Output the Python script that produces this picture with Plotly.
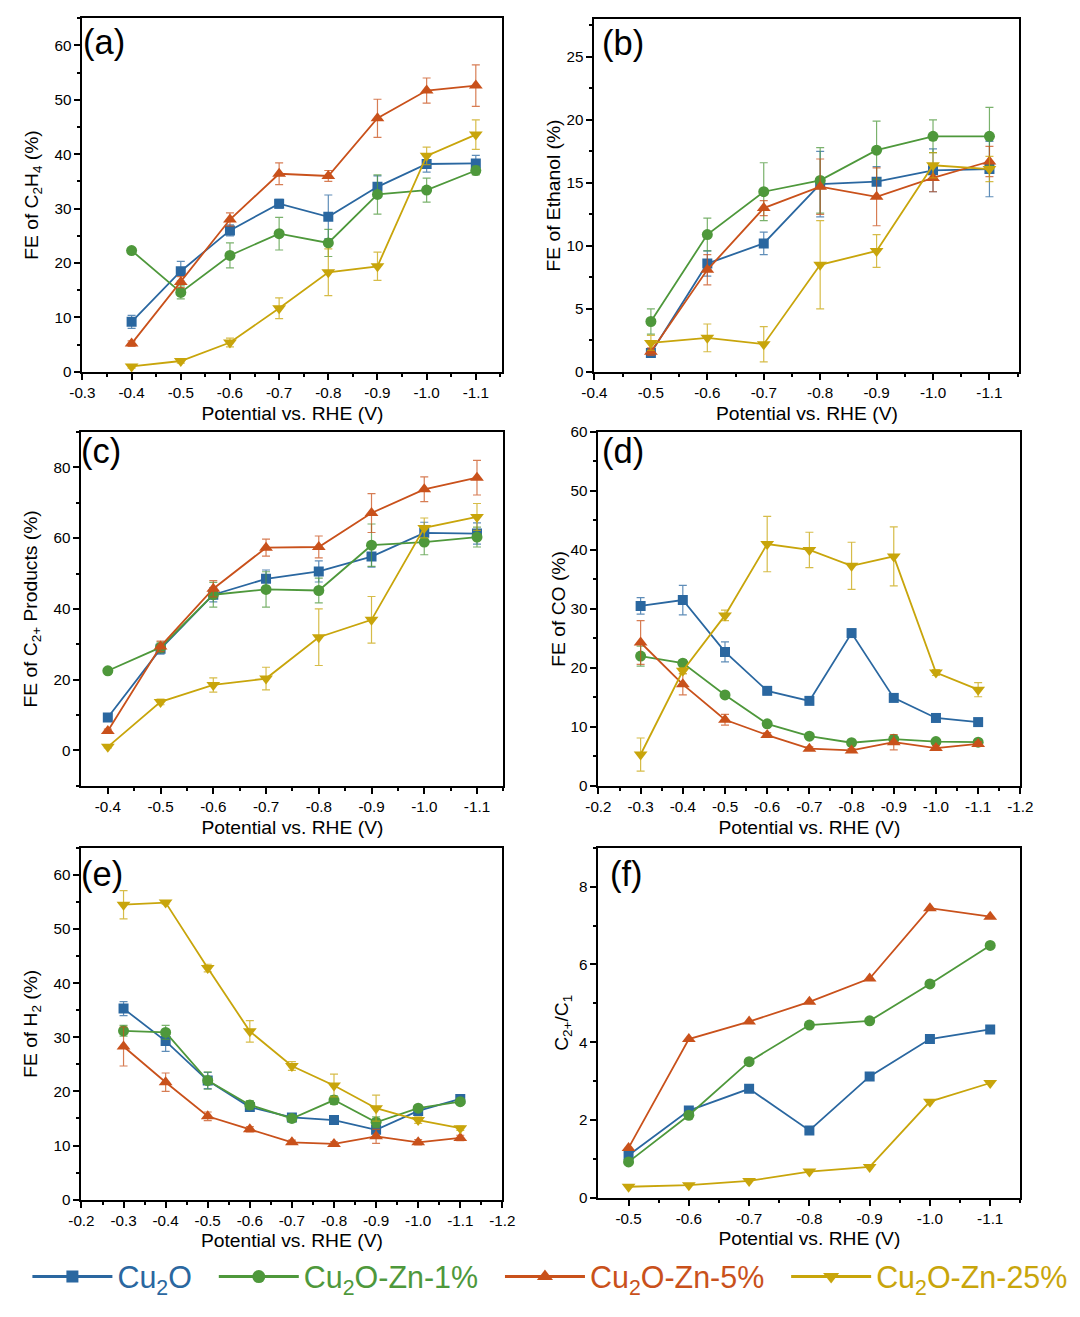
import numpy as np
import plotly.graph_objects as go

# ---------------- data ----------------
SERIES = ["Cu<sub>2</sub>O", "Cu<sub>2</sub>O-Zn-1%", "Cu<sub>2</sub>O-Zn-5%", "Cu<sub>2</sub>O-Zn-25%"]

pot_a = [-0.4, -0.5, -0.6, -0.7, -0.8, -0.9, -1.0, -1.1]
pot_b = [-0.5, -0.6, -0.7, -0.8, -0.9, -1.0, -1.1]
pot_d = [-0.3, -0.4, -0.5, -0.6, -0.7, -0.8, -0.9, -1.0, -1.1]

# (a) FE of C2H4
c2h4_cu2o = [9.2, 18.5, 26.0, 30.9, 28.5, 34.0, 38.2, 38.3]
c2h4_cu2o_err = [1.2, 1.8, 1.0, 0.8, 4.0, 2.0, 1.5, 1.5]
c2h4_zn1 = [22.3, 14.6, 21.4, 25.4, 23.7, 32.6, 33.4, 37.0]
c2h4_zn1_err = [0.5, 1.2, 2.3, 3.0, 2.5, 3.6, 2.2, 0.8]
c2h4_zn5 = [5.2, 16.5, 28.0, 36.4, 36.0, 46.6, 51.7, 52.6]
c2h4_zn5_err = [0.5, 1.0, 1.2, 2.0, 1.0, 3.5, 2.3, 3.8]
c2h4_zn25 = [1.0, 2.0, 5.4, 11.7, 18.3, 19.4, 39.7, 43.6]
c2h4_zn25_err = [0.3, 0.4, 0.8, 1.9, 4.3, 2.6, 1.6, 2.7]

# (b) FE of Ethanol
eth_cu2o = [1.5, 8.6, 10.2, 14.9, 15.1, 16.0, 16.1]
eth_cu2o_err = [0.3, 1.0, 0.9, 2.6, 1.2, 1.7, 2.2]
eth_zn1 = [4.0, 10.9, 14.3, 15.2, 17.6, 18.7, 18.7]
eth_zn1_err = [1.0, 1.3, 2.3, 2.6, 2.3, 1.3, 2.3]
eth_zn5 = [1.6, 8.1, 13.0, 14.7, 13.9, 15.4, 16.7]
eth_zn5_err = [0.3, 1.2, 0.6, 2.2, 2.3, 1.1, 1.2]
eth_zn25 = [2.3, 2.7, 2.2, 8.5, 9.6, 16.4, 16.1]
eth_zn25_err = [0.6, 1.1, 1.4, 3.5, 1.3, 1.0, 1.0]

# (c) FE of C2+ products
c2p_cu2o = [9.3, 28.7, 44.0, 48.5, 50.6, 54.8, 61.5, 61.3]
c2p_cu2o_err = [0.5, 1.5, 2.0, 2.5, 3.0, 3.0, 3.0, 3.0]
c2p_zn1 = [22.5, 29.1, 44.0, 45.5, 45.2, 58.0, 58.9, 60.3]
c2p_zn1_err = [0.5, 1.5, 3.5, 5.0, 3.5, 6.0, 3.6, 2.8]
c2p_zn5 = [5.5, 29.4, 45.7, 57.3, 57.5, 67.1, 73.8, 77.1]
c2p_zn5_err = [0.5, 1.5, 2.3, 2.4, 3.1, 5.5, 3.5, 4.9]
c2p_zn25 = [1.0, 13.7, 18.5, 20.3, 32.0, 36.9, 62.9, 66.0]
c2p_zn25_err = [0.3, 0.8, 2.0, 3.2, 8.0, 6.6, 2.8, 3.8]

# (d) FE of CO
co_cu2o = [30.5, 31.5, 22.7, 16.1, 14.4, 25.9, 14.9, 11.5, 10.8]
co_cu2o_err = [1.4, 2.5, 1.7, 0.5, 0.5, 0.6, 0.5, 0.5, 0.5]
co_zn1 = [22.0, 20.8, 15.4, 10.5, 8.4, 7.3, 7.9, 7.5, 7.4]
co_zn1_err = [1.7, 0.5, 0.4, 0.4, 0.4, 0.3, 0.4, 0.3, 0.3]
co_zn5 = [24.3, 17.2, 11.2, 8.6, 6.3, 6.0, 7.4, 6.4, 7.1]
co_zn5_err = [3.7, 1.8, 0.9, 0.4, 0.3, 0.3, 1.3, 0.4, 0.4]
co_zn25 = [5.3, 19.5, 28.9, 41.0, 40.0, 37.3, 38.9, 19.2, 16.3]
co_zn25_err = [2.8, 0.5, 0.9, 4.7, 3.0, 4.0, 5.0, 0.5, 1.2]

# (e) FE of H2
h2_cu2o = [35.3, 29.3, 22.0, 17.1, 15.2, 14.7, 12.9, 16.4, 18.6]
h2_cu2o_err = [1.3, 1.9, 1.5, 0.6, 0.5, 0.5, 0.5, 0.5, 0.6]
h2_zn1 = [31.2, 30.9, 22.0, 17.5, 15.0, 18.4, 14.3, 16.9, 18.1]
h2_zn1_err = [1.0, 1.3, 1.6, 0.8, 0.5, 0.8, 1.0, 0.5, 0.5]
h2_zn5 = [28.3, 21.7, 15.4, 13.0, 10.6, 10.3, 11.7, 10.6, 11.4]
h2_zn5_err = [3.6, 1.7, 0.8, 0.5, 0.4, 0.4, 1.3, 0.5, 0.5]
h2_zn25 = [54.5, 54.9, 42.8, 31.1, 24.7, 21.1, 16.9, 14.7, 13.2]
h2_zn25_err = [2.6, 0.3, 0.7, 2.0, 0.8, 2.1, 2.4, 0.6, 0.4]

# (f) C2+/C1 ratio
ratio_cu2o = [1.09, 2.24, 2.80, 1.73, 3.12, 4.08, 4.33]
ratio_zn1 = [0.92, 2.12, 3.50, 4.44, 4.55, 5.50, 6.49]
ratio_zn5 = [1.28, 4.08, 4.53, 5.04, 5.64, 7.45, 7.23]
ratio_zn25 = [0.28, 0.32, 0.43, 0.67, 0.79, 2.47, 2.95]

# tick labels
xticks_a = [-0.3, -0.4, -0.5, -0.6, -0.7, -0.8, -0.9, -1.0, -1.1]
xticks_b = [-0.4, -0.5, -0.6, -0.7, -0.8, -0.9, -1.0, -1.1]
xticks_c = [-0.4, -0.5, -0.6, -0.7, -0.8, -0.9, -1.0, -1.1]
xticks_d = [-0.2, -0.3, -0.4, -0.5, -0.6, -0.7, -0.8, -0.9, -1.0, -1.1, -1.2]
xticks_f = [-0.5, -0.6, -0.7, -0.8, -0.9, -1.0, -1.1]

# ---------------- style ----------------
COLORS = ["#2a67a0", "#4e983b", "#c9511b", "#c8a50b"]
ERRCOLORS = ["rgba(42,103,160,0.75)", "rgba(78,152,59,0.75)", "rgba(201,81,27,0.75)", "rgba(200,165,11,0.75)"]
SYMBOLS = ["square", "circle", "triangle-up", "triangle-down"]
MSIZE = [10, 11, 12, 12]
FONT = "Liberation Sans, Arial, sans-serif"
OFF = 8                      # body margin of the html page
SX, SY = 1080 / 1096, 1317 / 1337   # page -> picture scale
W, H = 1080, 1321
K = 1 / SX                   # size factor


def fx(px):
    return (px / SX - OFF) / W


def fy(py):
    return 1 - (py / SY - OFF) / H


fig = go.Figure()

panels = [
    dict(x=pot_a, ys=[c2h4_cu2o, c2h4_zn1, c2h4_zn5, c2h4_zn25],
         errs=[c2h4_cu2o_err, c2h4_zn1_err, c2h4_zn5_err, c2h4_zn25_err],
         px=(78, 502), py=(17, 370), xr=[-0.3, -1.154], yr=[0, 65], ydt=10, ymin=5,
         xt=xticks_a, ytitle="FE of C<sub>2</sub>H<sub>4</sub> (%)", label="(a)",
         ystand=11, lab=(6, 13)),
    dict(x=pot_b, ys=[eth_cu2o, eth_zn1, eth_zn5, eth_zn25],
         errs=[eth_cu2o_err, eth_zn1_err, eth_zn5_err, eth_zn25_err],
         px=(595, 1024), py=(18, 370), xr=[-0.4, -1.153], yr=[0, 28], ydt=5, ymin=2.5,
         xt=xticks_b, ytitle="FE of Ethanol (%)", label="(b)",
         ystand=1, lab=(13, 13)),
    dict(x=pot_a, ys=[c2p_cu2o, c2p_zn1, c2p_zn5, c2p_zn25],
         errs=[c2p_cu2o_err, c2p_zn1_err, c2p_zn5_err, c2p_zn25_err],
         px=(77, 503), py=(430, 783), xr=[-0.35, -1.15], yr=[-10, 90], ydt=20, ymin=10,
         xt=xticks_c, ytitle="FE of C<sub>2+</sub> Products (%)", label="(c)",
         ystand=11, lab=(5, 8)),
    dict(x=pot_d, ys=[co_cu2o, co_zn1, co_zn5, co_zn25],
         errs=[co_cu2o_err, co_zn1_err, co_zn5_err, co_zn25_err],
         px=(599, 1025), py=(430, 783), xr=[-0.2, -1.2], yr=[0, 60], ydt=10, ymin=5,
         xt=xticks_d, ytitle="FE of CO (%)", label="(d)",
         ystand=0, lab=(9, 8)),
    dict(x=pot_d, ys=[h2_cu2o, h2_zn1, h2_zn5, h2_zn25],
         errs=[h2_cu2o_err, h2_zn1_err, h2_zn5_err, h2_zn25_err],
         px=(77, 502), py=(845, 1196), xr=[-0.2, -1.2], yr=[0, 65], ydt=10, ymin=5,
         xt=xticks_d, ytitle="FE of H<sub>2</sub> (%)", label="(e)",
         ystand=11, lab=(5, 15)),
    dict(x=pot_b, ys=[ratio_cu2o, ratio_zn1, ratio_zn5, ratio_zn25],
         errs=None,
         px=(599, 1025), py=(845, 1194), xr=[-0.45, -1.15], yr=[0, 9], ydt=2, ymin=1,
         xt=xticks_f, ytitle="C<sub>2+</sub>/C<sub>1</sub>", label="(f)",
         ystand=5, lab=(17, 15)),
]

layout = {}
for i, p in enumerate(panels, start=1):
    xa = "x" if i == 1 else f"x{i}"
    ya = "y" if i == 1 else f"y{i}"
    for s in range(4):
        err = None
        if p["errs"] is not None:
            err = dict(type="data", array=p["errs"][s], visible=True,
                       color=ERRCOLORS[s], thickness=1.2, width=4)
        fig.add_trace(go.Scatter(
            x=p["x"], y=p["ys"][s], xaxis=xa, yaxis=ya,
            mode="lines+markers", name=SERIES[s],
            legendgroup=SERIES[s], showlegend=False,
            line=dict(color=COLORS[s], width=1.8),
            marker=dict(symbol=SYMBOLS[s], size=MSIZE[s], color=COLORS[s],
                        line=dict(width=0)),
            error_y=err,
        ))
    x0, x1 = p["px"]
    y0, y1 = p["py"]
    xdom = [fx(x0), fx(x1)]
    ydom = [fy(y1), fy(y0)]
    minor_x = np.round(np.arange(p["xt"][0] - 0.05, p["xt"][-1] - 0.06, -0.1), 3)
    xaxis = dict(
        domain=xdom, anchor=ya, range=p["xr"],
        tickmode="array", tickvals=p["xt"], ticktext=[f"{v:.1f}" for v in p["xt"]],
        ticks="outside", ticklen=6, tickwidth=1.5, tickcolor="black",
        minor=dict(tickmode="array", tickvals=list(minor_x), ticks="outside",
                   ticklen=3, tickwidth=1.5, tickcolor="black"),
        showline=True, linecolor="black", linewidth=2, mirror=True,
        showgrid=False, zeroline=False,
        tickfont=dict(family=FONT, size=15 * K, color="black"),
        title=dict(text="Potential vs. RHE (V)", standoff=6,
                   font=dict(family=FONT, size=19 * K, color="black")),
    )
    yaxis = dict(
        domain=ydom, anchor=xa, range=p["yr"],
        tick0=0, dtick=p["ydt"],
        ticks="outside", ticklen=6, tickwidth=1.5, tickcolor="black",
        minor=dict(tick0=0, dtick=p["ymin"], ticks="outside",
                   ticklen=3, tickwidth=1.5, tickcolor="black"),
        showline=True, linecolor="black", linewidth=2, mirror=True,
        showgrid=False, zeroline=False,
        tickfont=dict(family=FONT, size=15 * K, color="black"),
        title=dict(text=p["ytitle"], standoff=p["ystand"],
                   font=dict(family=FONT, size=19 * K, color="black")),
    )
    layout["xaxis" if i == 1 else f"xaxis{i}"] = xaxis
    layout["yaxis" if i == 1 else f"yaxis{i}"] = yaxis
    lx, ly = p["lab"]
    fig.add_annotation(
        text=p["label"], xref=f"{xa} domain", yref=f"{ya} domain",
        x=(lx - 7.5) / (x1 - x0), y=0.995 - (ly - 11.5) / (y1 - y0),
        xanchor="left", yanchor="top", showarrow=False,
        font=dict(family=FONT, size=34 * K, color="black"),
    )

# legend entries (legend-only, thicker lines as in the original key)
for s in range(4):
    pad = "&nbsp;&nbsp;" if s < 3 else ""
    fig.add_trace(go.Scatter(
        x=[None], y=[None], mode="lines+markers",
        name=f'<span style="color:{COLORS[s]}">{SERIES[s]}</span>{pad}',
        legendgroup=SERIES[s], showlegend=True,
        line=dict(color=COLORS[s], width=3),
        marker=dict(symbol=SYMBOLS[s], size=MSIZE[s] + 2, color=COLORS[s],
                    line=dict(width=0)),
    ))

fig.update_layout(**layout)

fig.update_layout(
    width=W, height=H,
    margin=dict(l=0, r=0, t=0, b=0),
    paper_bgcolor="white", plot_bgcolor="white",
    showlegend=True,
    legend=dict(orientation="h", x=fx(550), xanchor="center",
                y=fy(1273), yanchor="middle",
                font=dict(family=FONT, size=30 * K), itemwidth=80,
                bgcolor="rgba(0,0,0,0)", tracegroupgap=0),
)

fig.write_html("out.html")
